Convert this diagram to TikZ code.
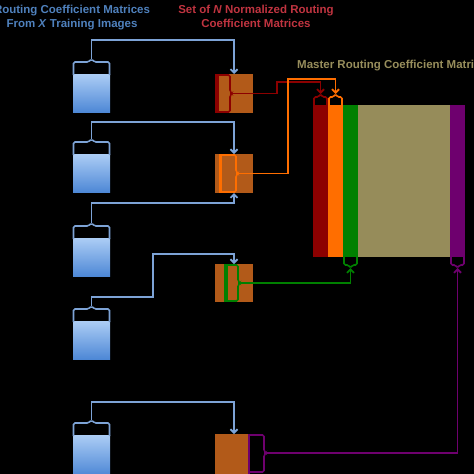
\documentclass[tikz,border=0pt]{standalone}
\usepackage{fontspec}
\setmainfont{Liberation Sans}
\usetikzlibrary{arrows.meta,calc}
\definecolor{bluetxt}{RGB}{79,129,189}
\definecolor{bluel}{RGB}{125,163,214}
\definecolor{bluetop}{RGB}{172,205,245}
\definecolor{bluebot}{RGB}{78,136,214}
\definecolor{redtxt}{RGB}{192,52,64}
\definecolor{khakitxt}{RGB}{152,142,92}
\definecolor{brn}{RGB}{178,90,25}
\definecolor{dred}{RGB}{140,0,0}
\definecolor{orng}{RGB}{255,110,0}
\definecolor{grn}{RGB}{0,128,0}
\definecolor{khk}{RGB}{150,140,90}
\definecolor{purp}{RGB}{110,0,110}
\newcommand\bbrace[2]{%
  \draw[brace,bluel] (73.5,{#2+1}) -- (73.5,{#2-12}) -- (88.5,{#2-12}) -- (91.5,{#2-15}) -- (94.5,{#2-12}) -- (109.5,{#2-12}) -- (109.5,{#2+1});
  \coordinate (t#1) at (91.5,{#2-15});}
\begin{document}
\begin{tikzpicture}[x=1pt,y=-1pt,
  mat/.style={anchor=north west,inner sep=0pt,outer sep=0pt,top color=bluetop,bottom color=bluebot,minimum width=37pt,minimum height=38pt},
  nmat/.style={anchor=north west,inner sep=0pt,outer sep=0pt,fill=brn,minimum height=39pt},
  col/.style={anchor=north west,inner sep=0pt,outer sep=0pt,minimum width=15pt,minimum height=152pt},
  link/.style={line width=1.8pt},
  tipped/.style={-{Straight Barb[length=3.5pt,width=7pt]}},
  brace/.style={line width=1.6pt,rounded corners=1.5pt},
  ttl/.style={inner sep=0pt,align=center,font=\fontsize{11.5}{14}\selectfont\bfseries}]
\useasboundingbox (0,0) rectangle (474,474);
\clip (0,0) rectangle (474,474);
\fill[black] (0,0) rectangle (474,474);

% titles
\node[ttl,text=bluetxt,anchor=north] (ttA) at (72,4.5) {Routing Coefficient Matrices\\From \textit{X} Training Images};
\node[ttl,text=redtxt,anchor=north] (ttB) at (256,4.5) {Set of \textit{N} Normalized Routing\\Coefficient Matrices};
\node[ttl,text=khakitxt,anchor=north west] (ttC) at (297,59.5) {Master Routing Coefficient Matrix};

% training matrices
\node[mat] (m1) at (73,74) {};
\node[mat] (m2) at (73,154) {};
\node[mat] (m3) at (73,238) {};
\node[mat] (m4) at (73,321) {};
\node[mat,minimum height=40pt] (m5) at (73,435) {};
\bbrace{1}{74}
\bbrace{2}{154}
\bbrace{3}{238}
\bbrace{4}{321}
\bbrace{5}{435}

% normalized matrices
\node[nmat,minimum width=38pt] (nA) at (215,74) {};
\node[nmat,minimum width=38pt] (nB) at (215,154) {};
\node[nmat,minimum width=38pt,minimum height=38pt] (nC) at (215,264) {};
\node[nmat,minimum width=34pt,minimum height=40pt] (nD) at (215,434) {};

% blue links
\draw[link,bluel,tipped] (t1) -- ++(0,-19) -| (nA.north);
\draw[link,bluel,tipped] (t2) -- ++(0,-17) -| (nB.north);
\draw[link,bluel,tipped] (t3) -- ++(0,-20) -| (nB.south);
\draw[link,bluel,tipped] (t4) -- ++(0,-9) -- ++(61.5,0) -- ++(0,-43) -| (nC.north);
\draw[link,bluel,tipped] (t5) -- ++(0,-18) -| ([xshift=2pt]nD.north);

% master matrix
\node[col,fill=dred] (c1) at (313,105) {};
\node[col,fill=orng] (c2) at (328,105) {};
\node[col,fill=grn] (c3) at (343,105) {};
\node[col,fill=khk,minimum width=92pt] (c4) at (358,105) {};
\node[col,fill=purp] (c5) at (450,105) {};

% master braces
\draw[brace,dred] (314,105) -- (314,97) -- (318.5,97) -- (320.5,94) -- (322.5,97) -- (327,97) -- (327,105);
\coordinate (u1) at (320.5,94);
\draw[brace,orng] (329,105) -- (329,97) -- (333.5,97) -- (335.5,94) -- (337.5,97) -- (342,97) -- (342,105);
\coordinate (u2) at (335.5,94);
\draw[brace,grn] (344,257) -- (344,265) -- (348.5,265) -- (350.5,268) -- (352.5,265) -- (357,265) -- (357,257);
\coordinate (u3) at (350.5,268);
\draw[brace,purp] (451,257) -- (451,265) -- (455.5,265) -- (457.5,268) -- (459.5,265) -- (464,265) -- (464,257);
\coordinate (u5) at (457.5,268);

% column highlights and braces in normalized matrices
\fill[dred] (215,74) rectangle (219,113);
\draw[brace,dred] (219,75) -- (230,75) -- (230,91.5) -- (232,93.5) -- (230,95.5) -- (230,112) -- (219,112);
\coordinate (sA) at (232,93.5);
\fill[orng] (219,154) rectangle (222,193);
\draw[brace,orng] (221,155) -- (236,155) -- (236,171.5) -- (238,173.5) -- (236,175.5) -- (236,192) -- (221,192);
\coordinate (sB) at (238,173.5);
\fill[grn] (224,264) rectangle (228,302);
\draw[brace,grn] (227,265) -- (238,265) -- (238,281) -- (240,283) -- (238,285) -- (238,301) -- (227,301);
\coordinate (sC) at (240,283);
\fill[purp] (248,434) rectangle (250,474);
\draw[brace,purp] (249,435) -- (264,435) -- (264,451) -- (266,453) -- (264,455) -- (264,472) -- (249,472);
\coordinate (sD) at (266,453);

% coloured links
\draw[link,dred,tipped] (sA) -- (277,93.5) -- (277,82) -| (u1);
\draw[link,orng,tipped] (sB) -- (288,173.5) -- (288,79) -| (u2);
\draw[link,grn,tipped] (sC) -| (u3);
\draw[link,purp,tipped] (sD) -| (u5);
\end{tikzpicture}
\end{document}
